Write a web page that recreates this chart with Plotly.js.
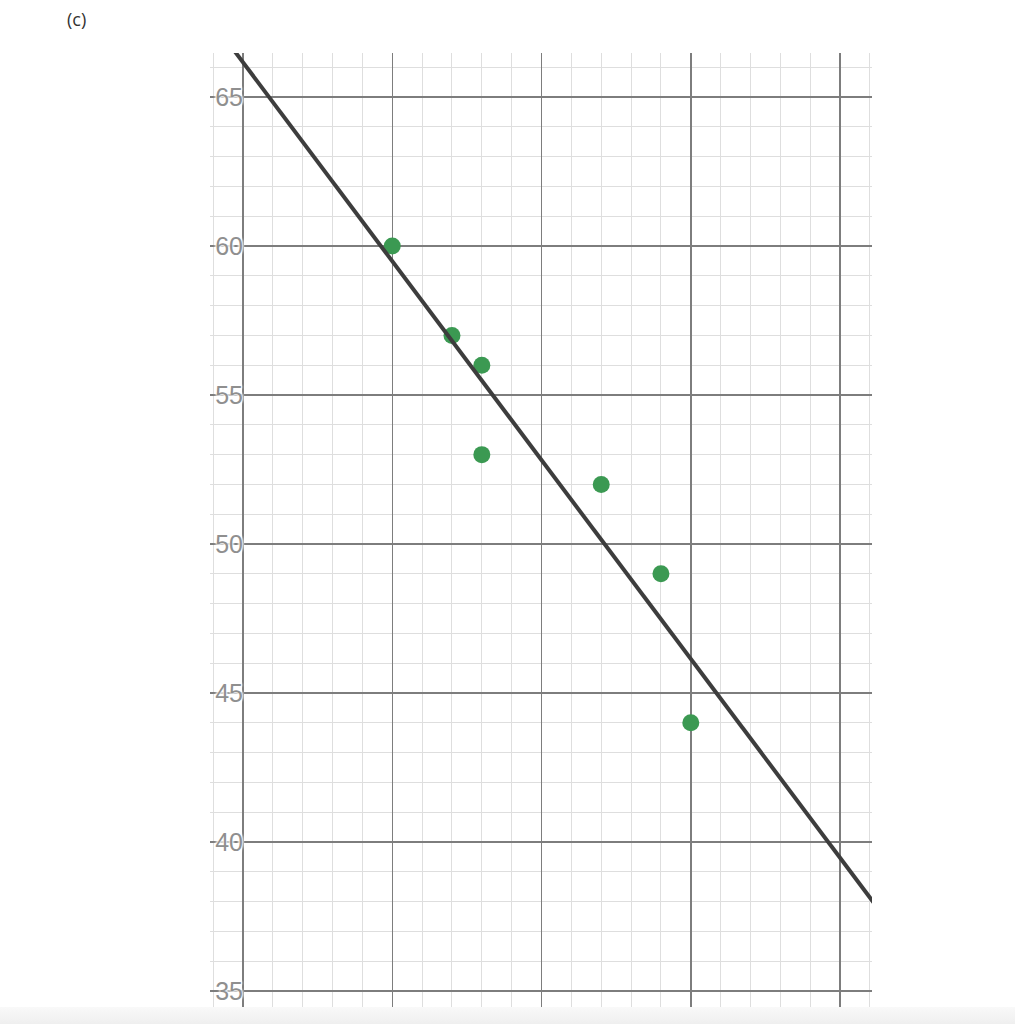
<!DOCTYPE html>
<html>
<head>
<meta charset="utf-8">
<script src="https://cdn.plot.ly/plotly-3.0.1.min.js"></script>
<style>
  html, body { margin: 0; padding: 0; background: #fff; overflow: hidden; }
  #chart { width: 1015px; height: 1024px; }
  #fade {
    position: absolute; left: 0; top: 1007px; width: 1015px; height: 17px;
    background: linear-gradient(#f9f9f9, #efefef);
  }
</style>
</head>
<body>
<div id="chart"></div>
<div id="fade"></div>
<script>
	// scatter points
	const xVals = [10, 12, 13, 13, 17, 19, 20];
	const yVals = [60, 57, 56, 53, 52, 49, 44];

	// best-fit line, two ends
	const fitX = [4, 27];
	const fitY = [67.5, 36.8];

	// y tick values shown at the left
	const yTicks = [35, 40, 45, 50, 55, 60, 65];

	const xRange = [3.894, 26.07];
	const yRange = [34.36, 66.48];

	const points = {
		x: xVals,
		y: yVals,
		mode: 'markers',
		type: 'scatter',
		marker: { size: 17, color: '#3b9952' },
		hoverinfo: 'x+y'
	};

	const fit = {
		x: fitX,
		y: fitY,
		mode: 'lines',
		type: 'scatter',
		line: { color: '#3d3d3d', width: 4 },
		hoverinfo: 'skip'
	};

	const halo = '0 0 3px #fff, 0 0 3px #fff, 0 0 3px #fff, 0 0 3px #fff';

	const layout = {
		width: 1015,
		height: 1024,
		margin: { l: 210, r: 143, t: 53, b: 14 },
		paper_bgcolor: '#fff',
		plot_bgcolor: '#fff',
		showlegend: false,
		xaxis: {
			range: xRange,
			tick0: 0,
			dtick: 5,
			showgrid: true,
			gridcolor: '#7d7d7d',
			gridwidth: 1.5,
			minor: { tick0: 0, dtick: 1, showgrid: true, gridcolor: '#dedede', gridwidth: 1 },
			showticklabels: false,
			ticks: '',
			zeroline: false,
			showline: false
		},
		yaxis: {
			range: yRange,
			tickvals: yTicks,
			ticktext: yTicks.map( String ),
			anchor: 'free',
			position: ( 5 - xRange[0] ) / ( xRange[1] - xRange[0] ),
			showgrid: true,
			gridcolor: '#7d7d7d',
			gridwidth: 1.5,
			minor: { tick0: 0, dtick: 1, showgrid: true, gridcolor: '#dedede', gridwidth: 1 },
			ticks: '',
			ticklabelstandoff: 0,
			tickfont: { family: 'Liberation Sans, Arial, sans-serif', size: 25, color: '#8f8f8f', shadow: halo },
			zeroline: false,
			showline: false
		},
		annotations: [{
			text: '(c)',
			xref: 'paper', yref: 'paper',
			x: ( 76 - 210 ) / 662, y: 1 + ( 53 - 19 ) / 957,
			xanchor: 'center', yanchor: 'middle',
			showarrow: false,
			font: { family: 'Open Sans, sans-serif', size: 18, color: '#333' }
		}]
	};

	Plotly.newPlot( 'chart', [ points, fit ], layout, { displayModeBar: false, staticPlot: true } );
</script>
</body>
</html>
